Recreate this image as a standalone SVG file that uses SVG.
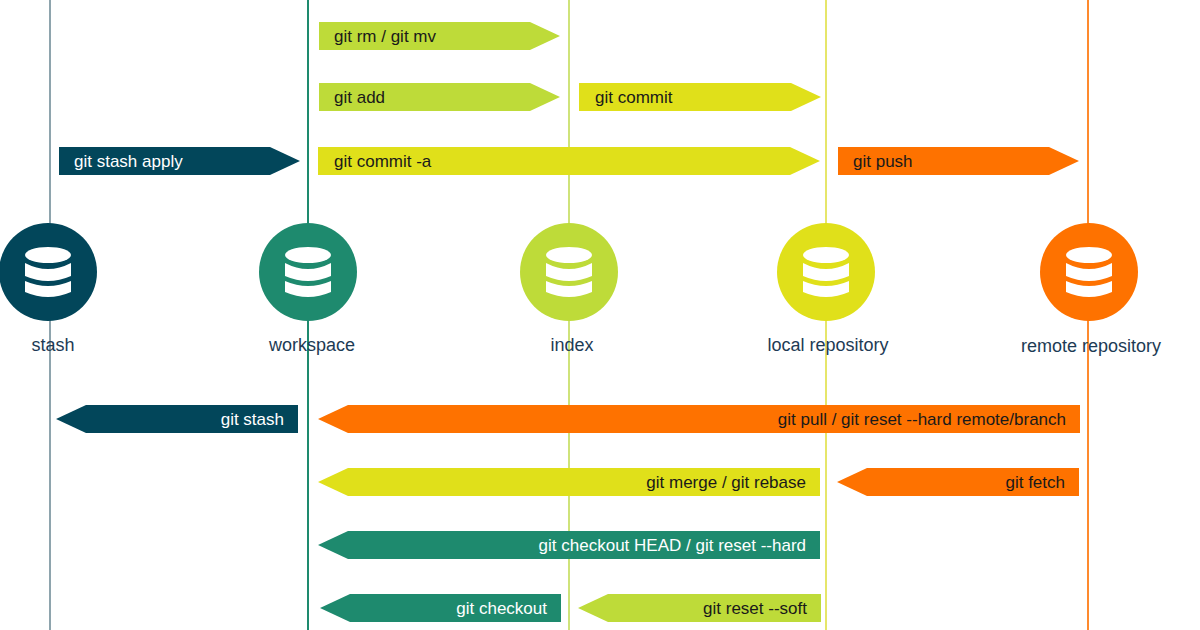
<svg xmlns="http://www.w3.org/2000/svg" width="1200" height="630" viewBox="0 0 1200 630">
<style>
text{font-family:"Liberation Sans",Arial,sans-serif}
.lbl{font-size:18px;fill:#1d3b55;text-anchor:middle}
.t{font-size:17px}
.dk{fill:#1a1a1a}.wt{fill:#ffffff}
.ic{fill:#fff}
</style>
<defs>
<g id="db">
<ellipse cx="0" cy="-17" rx="23" ry="8" class="ic"/>
<path d="M-23,-9 Q0,3 23,-9 V4 Q0,14 -23,4 Z" class="ic"/>
<path d="M-23,9 Q0,19 23,9 V20 Q0,30 -23,20 Z" class="ic"/>
</g>
</defs>
<rect width="1200" height="630" fill="#fff"/>
<g id="connectors" stroke-width="2">
<line x1="50" y1="0" x2="50" y2="630" stroke="#8ea4ad"/>
<line x1="308" y1="0" x2="308" y2="630" stroke="#1e8a6e"/>
<line x1="569" y1="0" x2="569" y2="630" stroke="#cfe37a"/>
<line x1="826" y1="0" x2="826" y2="630" stroke="#e6e66a"/>
<line x1="1088" y1="0" x2="1088" y2="630" stroke="#fe8a2e"/>
</g>
<g id="stash"><circle cx="48" cy="272" r="49" fill="#02465a"/><use href="#db" x="48" y="272"/><text class="lbl" x="53" y="351">stash</text></g>
<g id="workspace"><circle cx="308" cy="272" r="49" fill="#1e8a6e"/><use href="#db" x="308" y="272"/><text class="lbl" x="312" y="351">workspace</text></g>
<g id="index"><circle cx="569" cy="272" r="49" fill="#bedb39"/><use href="#db" x="569" y="272"/><text class="lbl" x="572" y="351">index</text></g>
<g id="local"><circle cx="826" cy="272" r="49" fill="#e0e01a"/><use href="#db" x="826" y="272"/><text class="lbl" x="828" y="351">local repository</text></g>
<g id="remote"><circle cx="1089" cy="272" r="49" fill="#fe7200"/><use href="#db" x="1089" y="272"/><text class="lbl" x="1091" y="352">remote repository</text></g>
<g id="arrows">
<g id="a-rm"><path d="M319,22 H530 L560,36 L530,50 H319 Z" fill="#bedb39"/><text class="t dk" x="334" y="42">git rm / git mv</text></g>
<g id="a-add"><path d="M319,83 H530 L560,97 L530,111 H319 Z" fill="#bedb39"/><text class="t dk" x="334" y="103">git add</text></g>
<g id="a-commit"><path d="M579,83 H791 L821,97 L791,111 H579 Z" fill="#e0e01a"/><text class="t dk" x="595" y="103">git commit</text></g>
<g id="a-stashapply"><path d="M59,147 H270 L300,161 L270,175 H59 Z" fill="#02465a"/><text class="t wt" x="74" y="167">git stash apply</text></g>
<g id="a-commita"><path d="M318,147 H790 L820,161 L790,175 H318 Z" fill="#e0e01a"/><text class="t dk" x="334" y="167">git commit -a</text></g>
<g id="a-push"><path d="M838,147 H1049 L1079,161 L1049,175 H838 Z" fill="#fe7200"/><text class="t dk" x="853" y="167">git push</text></g>
<g id="a-stash"><path d="M298,405 H86 L56,419 L86,433 H298 Z" fill="#02465a"/><text class="t wt" x="284" y="425" text-anchor="end">git stash</text></g>
<g id="a-pull"><path d="M1080,405 H348 L318,419 L348,433 H1080 Z" fill="#fe7200"/><text class="t dk" x="1066" y="425" text-anchor="end">git pull / git reset --hard remote/branch</text></g>
<g id="a-merge"><path d="M820,468 H348 L318,482 L348,496 H820 Z" fill="#e0e01a"/><text class="t dk" x="806" y="488" text-anchor="end">git merge / git rebase</text></g>
<g id="a-fetch"><path d="M1079,468 H867 L837,482 L867,496 H1079 Z" fill="#fe7200"/><text class="t dk" x="1065" y="488" text-anchor="end">git fetch</text></g>
<g id="a-head"><path d="M820,531 H348 L318,545 L348,559 H820 Z" fill="#1e8a6e"/><text class="t wt" x="806" y="551" text-anchor="end">git checkout HEAD / git reset --hard</text></g>
<g id="a-checkout"><path d="M561,594 H350 L320,608 L350,622 H561 Z" fill="#1e8a6e"/><text class="t wt" x="547" y="614" text-anchor="end">git checkout</text></g>
<g id="a-soft"><path d="M821,594 H608 L578,608 L608,622 H821 Z" fill="#bedb39"/><text class="t dk" x="807" y="614" text-anchor="end">git reset --soft</text></g>
</g>
</svg>
